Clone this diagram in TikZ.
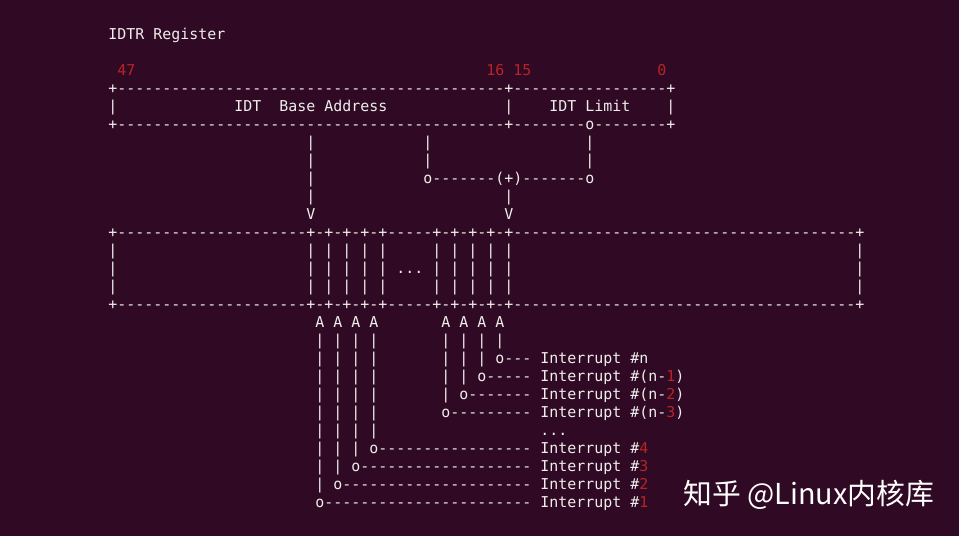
\documentclass[tikz,border=0pt]{standalone}
\usepackage{fontspec}
\setmonofont{DejaVu Sans Mono}
\newfontfamily\cjkfont{Noto Sans CJK SC}
\definecolor{termbg}{HTML}{300A24}
\definecolor{termfg}{HTML}{EEEEEC}
\definecolor{termred}{HTML}{B82424}
\newcommand{\dashes}[1]{\foreach \i in {1,...,#1}{-}}
\newcommand{\redbit}[1]{\textcolor{termred}{#1}}
\tikzset{
  txt/.style={anchor=base west, inner sep=0pt, text=termfg,
    font=\ttfamily\fontsize{14.95}{18}\selectfont},
  bit/.style={txt, text=termred},
}

\begin{document}
\begin{tikzpicture}[x=9pt,y=-18pt]
            \fill[termbg] (-12.022,-2.1667) rectangle (94.533,27.611);
            \useasboundingbox (-12.022,-2.1667) rectangle (94.533,27.611);

            % IDTR register
            \node[txt] (title) at (0,0) {IDTR Register};
            \node[bit] (b47) at (1,2) {47};
            \node[bit] (b16) at (42,2) {16};
            \node[bit] (b15) at (45,2) {15};
            \node[bit] (b0) at (61,2) {0};
            \node[txt] (regtop) at (0,3) {+\dashes{43}+\dashes{17}+};
            \node[txt] (regl) at (0,4) {|};
            \node[txt] (idt) at (14,4) {IDT};
            \node[txt] (base) at (19,4) {Base Address};
            \node[txt] (regm) at (44,4) {|};
            \node[txt] (limit) at (49,4) {IDT Limit};
            \node[txt] (regr) at (62,4) {|};
            \node[txt] (regbot) at (0,5) {+\dashes{43}+\dashes{8}o\dashes{8}+};

            % adder
            \foreach \r in {6,7} {
                \node[txt] (pa-\r) at (22,\r) {|};
                \node[txt] (pb-\r) at (35,\r) {|};
                \node[txt] (pc-\r) at (53,\r) {|};
            }
            \node[txt] (pa-8) at (22,8) {|};
            \node[txt] (adder) at (35,8) {o\dashes{7}(+)\dashes{7}o};
            \node[txt] (pa-9) at (22,9) {|};
            \node[txt] (pd-9) at (44,9) {|};
            \node[txt] (va) at (22,10) {V};
            \node[txt] (vb) at (44,10) {V};

            % IDT table
            \node[txt] (idttop) at (0,11) {+\dashes{21}+-+-+-+-+\dashes{5}+-+-+-+-+\dashes{38}+};
            \foreach \r in {12,13,14} {
                \node[txt] (tl-\r) at (0,\r) {|};
                \node[txt] (ga-\r) at (22,\r) {| | | | |};
                \node[txt] (gb-\r) at (36,\r) {| | | | |};
                \node[txt] (tr-\r) at (83,\r) {|};
            }
            \node[txt] (gap) at (32,13) {...};
            \node[txt] (idtbot) at (0,15) {+\dashes{21}+-+-+-+-+\dashes{5}+-+-+-+-+\dashes{38}+};

            % gates
            \node[txt] (upa) at (23,16) {A A A A};
            \node[txt] (upb) at (37,16) {A A A A};
            \node[txt] (la-17) at (23,17) {| | | |};
            \node[txt] (lb-17) at (37,17) {| | | |};
            \foreach \r in {18,...,22}
                \node[txt] (la-\r) at (23,\r) {| | | |};
            \node[txt] (intn) at (37,18) {| | | o\dashes{3} Interrupt \#n};
            \node[txt] (intn1) at (37,19) {| | o\dashes{5} Interrupt \#(n-\redbit{1})};
            \node[txt] (intn2) at (37,20) {| o\dashes{7} Interrupt \#(n-\redbit{2})};
            \node[txt] (intn3) at (37,21) {o\dashes{9} Interrupt \#(n-\redbit{3})};
            \node[txt] (more) at (48,22) {...};
            \node[txt] (int4) at (23,23) {| | | o\dashes{17} Interrupt \#\redbit{4}};
            \node[txt] (int3) at (23,24) {| | o\dashes{19} Interrupt \#\redbit{3}};
            \node[txt] (int2) at (23,25) {| o\dashes{21} Interrupt \#\redbit{2}};
            \node[txt] (int1) at (23,26) {o\dashes{23} Interrupt \#\redbit{1}};

            \node[anchor=west, inner sep=0pt, text=white,
                font=\cjkfont\fontsize{28.8}{32}\selectfont] (mark) at (63.9,25.33) {知乎 @Linux内核库};
        \end{tikzpicture}
\end{document}
